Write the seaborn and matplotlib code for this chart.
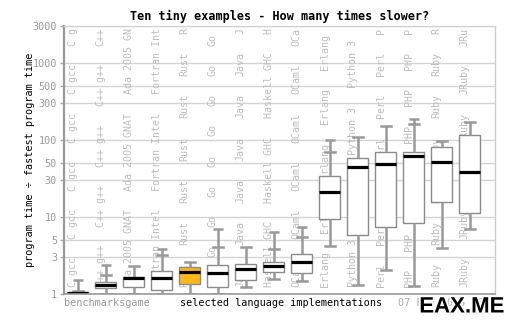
import numpy as np
import pandas as pd
import matplotlib
matplotlib.use("Agg")
import matplotlib.pyplot as plt
import matplotlib.transforms as mtransforms
import matplotlib.patheffects as pe
import seaborn as sns

# ---------------- data ----------------
languages = ["C gcc", "C++ g++", "Ada 2005 GNAT", "Fortran Intel", "Rust", "Go", "Java",
             "Haskell GHC", "OCaml", "Erlang", "Python 3", "Perl", "PHP", "Ruby", "JRuby"]
whisker_low = [1.0, 1.0, 1.0, 1.0, 1.0, 1.0, 1.24, 1.55, 1.47, 4.2, 1.31, 2.05, 1.28, 3.92, 6.9]
q1 = [1.0, 1.19, 1.22, 1.13, 1.34, 1.22, 1.51, 1.95, 1.86, 9.34, 5.83, 7.35, 8.28, 15.8, 11.2]
median = [1.02, 1.32, 1.60, 1.63, 1.95, 1.89, 2.09, 2.31, 2.63, 21.3, 45.0, 48.8, 62.0, 51.8, 38.3]
q3 = [1.05, 1.42, 1.65, 1.97, 2.22, 2.36, 2.43, 2.63, 3.34, 34.0, 57.9, 69.1, 70.6, 80.4, 116.0]
whisker_high = [1.10, 1.77, 2.31, 3.21, 2.63, 4.04, 4.04, 3.8, 5.55, 70.6, 108.0, 153.0, 160.0, 98.0, 169.0]
maximum = [1.52, 2.38, np.nan, 3.8, np.nan, 6.9, np.nan, 6.3, 7.35, 101.0, np.nan, np.nan, 186.0, np.nan, np.nan]
highlight = "Rust"
y_ticks = [1, 3, 5, 10, 30, 50, 100, 300, 500, 1000, 3000]
title = "Ten tiny examples - How many times slower?"
y_label = "program time \u00f7 fastest program time"

# long table: five-number summary per language
rows = []
for i, lang in enumerate(languages):
    for v in (whisker_low[i], q1[i], median[i], q3[i], whisker_high[i]):
        rows.append({"lang": lang, "value": v})
df = pd.DataFrame(rows)
palette = {lang: ("#ffb719" if lang == highlight else "white") for lang in languages}

# ---------------- figure ----------------
plt.rcParams["font.family"] = ["DejaVu Sans Mono", "DejaVu Sans"]
fig = plt.figure(figsize=(5.12, 3.2), dpi=100)
AX_H_PX = 294 - 26
ax = fig.add_axes([64 / 512, 1 - 294 / 320, (495 - 64) / 512, AX_H_PX / 320])

GRAY = "#999999"
sns.boxplot(data=df, x="lang", y="value", hue="lang", order=languages, hue_order=languages,
            palette=palette, legend=False, whis=(0, 100), width=0.75, saturation=1,
            showfliers=False, log_scale=(False, True), ax=ax,
            linecolor="#8a8a8a", linewidth=1.0,
            medianprops=dict(color="black", linewidth=2.3),
            whiskerprops=dict(color=GRAY, linewidth=1.8),
            capprops=dict(color=GRAY, linewidth=1.8))

# extra caps reaching the maximum
pos = np.arange(len(languages))
mx = np.array(maximum, dtype=float)
wh = np.array(whisker_high, dtype=float)
m = ~np.isnan(mx)
ax.vlines(pos[m], wh[m], mx[m], color=GRAY, lw=1.8, zorder=2)
ax.hlines(mx[m], pos[m] - 0.19, pos[m] + 0.19, color=GRAY, lw=1.8, zorder=2)

ax.set_yscale("log")
ax.set_ylim(1, 3000)
ax.set_xlim(-0.5, 14.9)
ax.set_yticks(y_ticks)
ax.set_yticklabels([str(t) for t in y_ticks])
ax.yaxis.set_minor_locator(matplotlib.ticker.NullLocator())
ax.tick_params(axis="y", colors="#aaaaaa", labelcolor=GRAY, labelsize=7.3, length=3, width=1, pad=2)
ax.tick_params(axis="x", bottom=False, labelbottom=False)
ax.set_xlabel("")
ax.set_ylabel("")
ax.grid(axis="y", color="#d4d4d4", lw=1)
ax.set_axisbelow(True)
ax.spines["left"].set_color(GRAY)
ax.spines["left"].set_linewidth(1.6)
ax.spines["bottom"].set_color(GRAY)
ax.spines["bottom"].set_linewidth(1.2)
ax.spines["right"].set_color("#cccccc")
ax.spines["right"].set_linewidth(1)
ax.spines["top"].set_color("#d4d4d4")
ax.spines["top"].set_linewidth(1)

# repeated gray column labels (pieces that fit inside the plot area)
LABEL_FS = 7.2
char_px = 0.602 * LABEL_FS * 100 / 72
start_px = 7
trans = mtransforms.blended_transform_factory(ax.transData, ax.transAxes)
for i, lang in enumerate(languages):
    period = (len(lang) + 3) * char_px
    y0 = start_px
    while True:
        avail = AX_H_PX - y0 - 2
        n = int(avail // char_px)
        piece = lang if n >= len(lang) else lang[:max(n, 0)].rstrip()
        if not piece:
            break
        ax.text(i - 0.19, y0 / AX_H_PX, piece, rotation=90, ha="center", va="bottom",
                color="#bdbdbd", fontsize=LABEL_FS, transform=trans, zorder=0.9)
        y0 += period

# titles and texts
fig.text(279.5 / 512, 1 - 16 / 320, title, ha="center", va="center",
         fontsize=8.5, fontweight="bold", color="black")
fig.text(30 / 512, 0.5, y_label, rotation=90, ha="center", va="center",
         fontsize=7.3, color="black")
fig.text(64 / 512, 1 - 303 / 320, "benchmarksgame", ha="left", va="center",
         fontsize=7.3, color=GRAY)
fig.text(180 / 512, 1 - 303 / 320, "selected language implementations", ha="left",
         va="center", fontsize=7.3, color="black")
fig.text(398 / 512, 1 - 303 / 320, "07 Feb 2015 u64", ha="left", va="center",
         fontsize=7.3, color="#aaaaaa")
fig.text(462 / 512, 1 - 307 / 320, "EAX.ME", ha="center", va="center",
         fontsize=16, fontweight="bold", color="black", family="Liberation Sans",
         path_effects=[pe.withStroke(linewidth=2.5, foreground="white")])

fig.savefig("out.png", dpi=100)
